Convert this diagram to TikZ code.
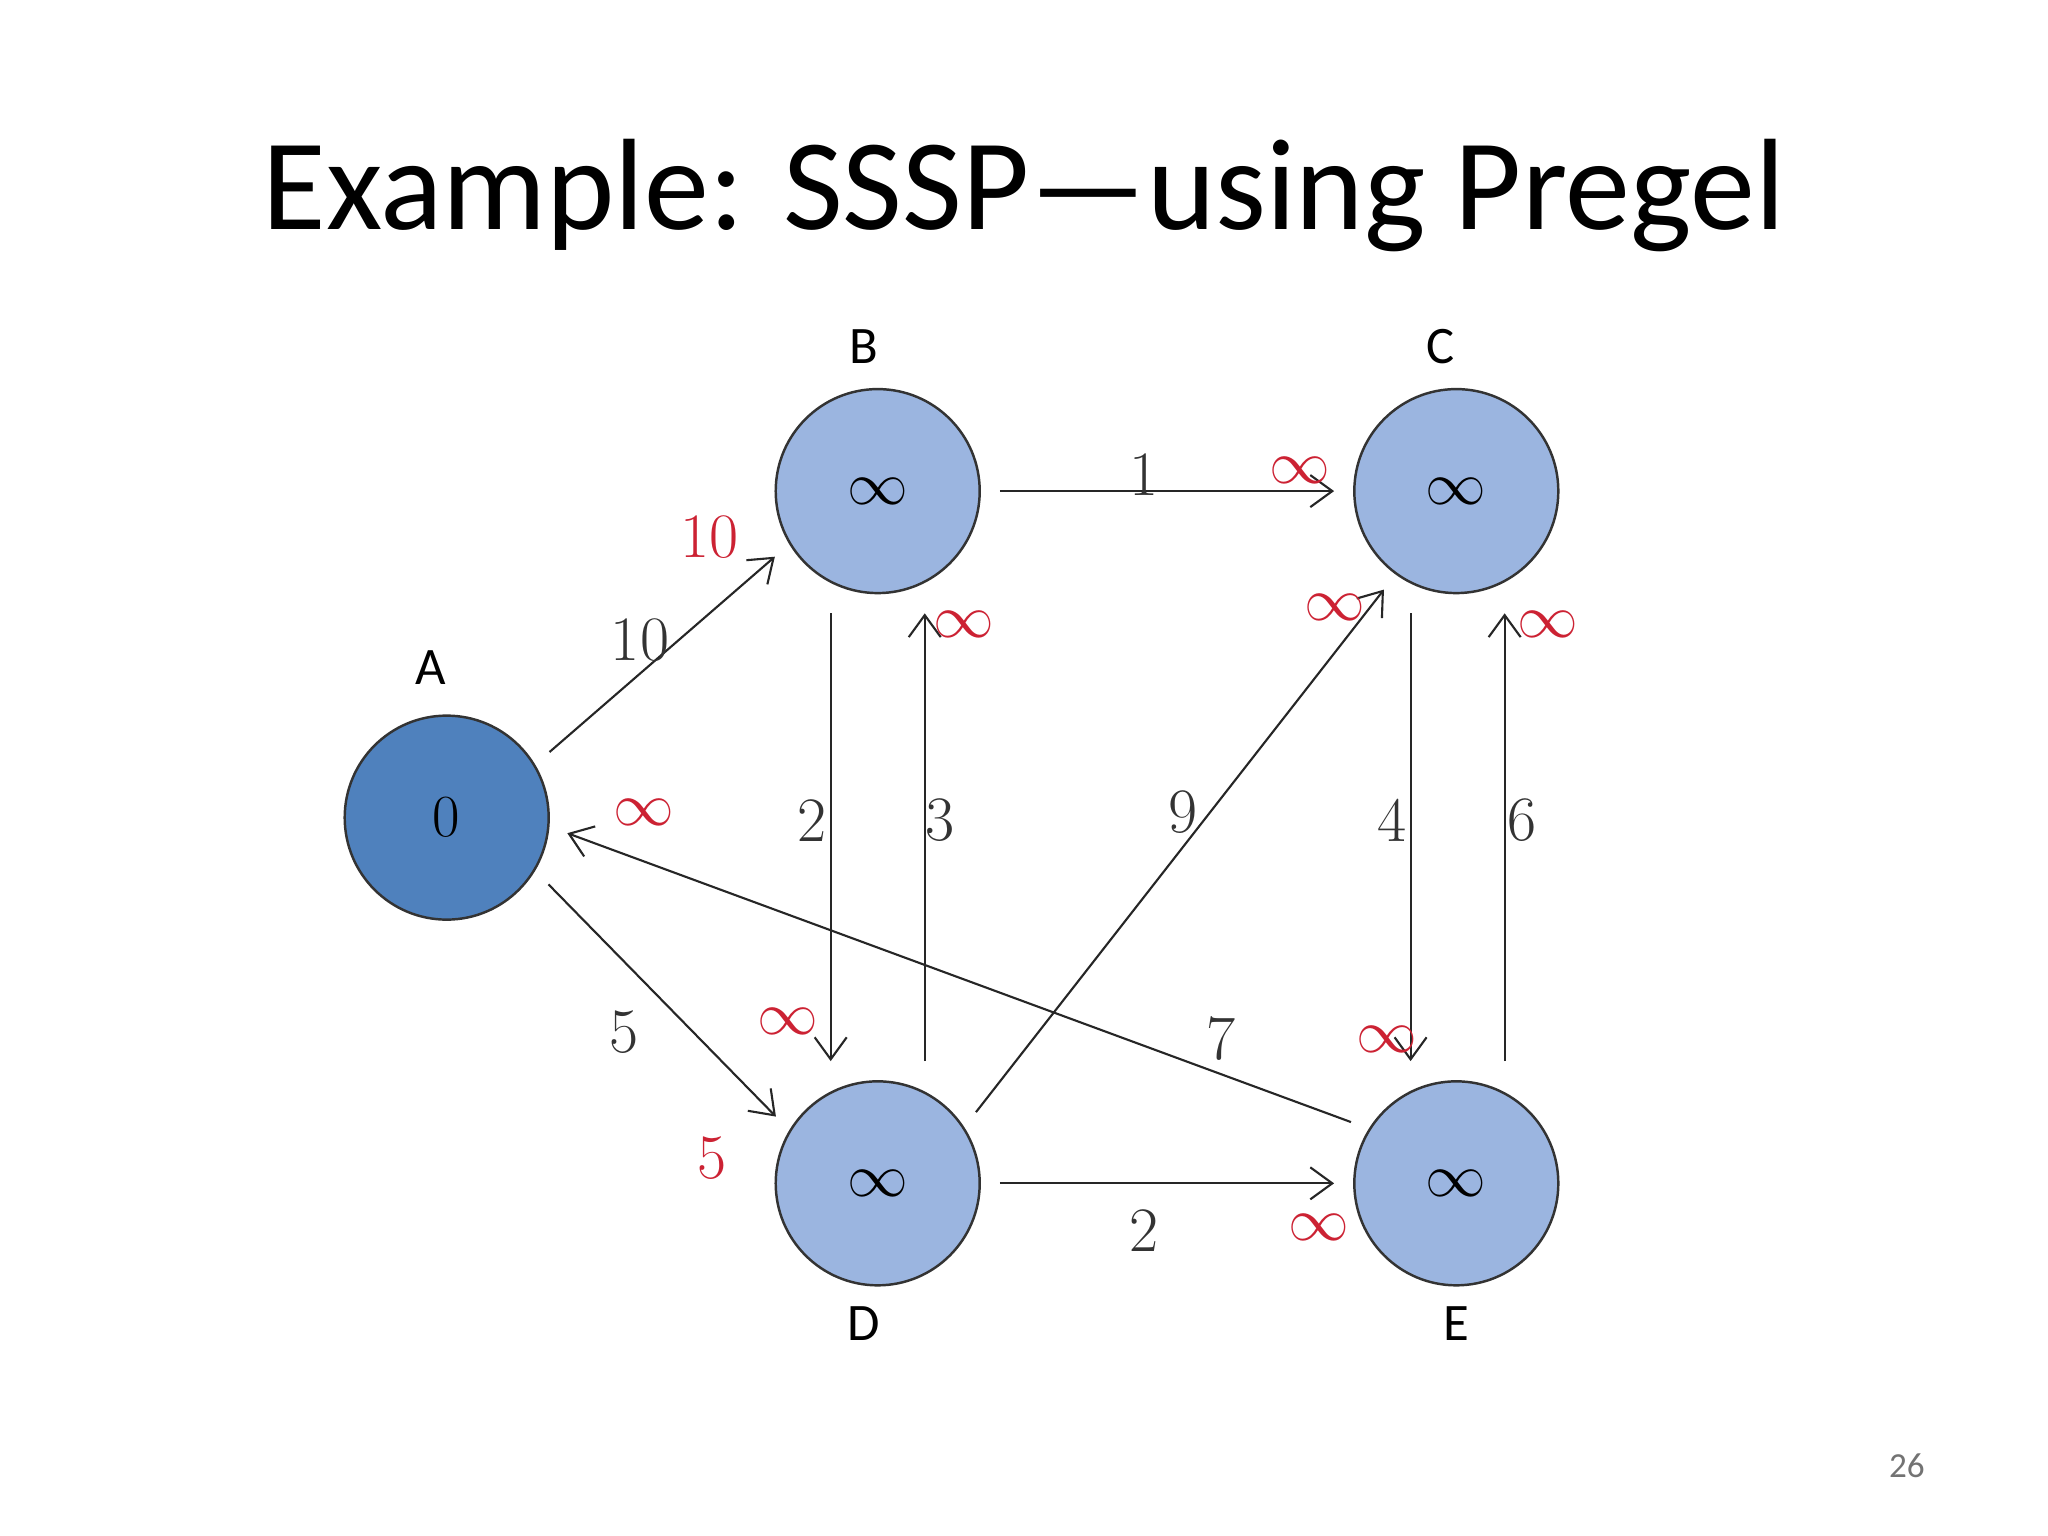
\documentclass[tikz,border=0pt]{standalone}
\usepackage{fontspec}
\setsansfont{Carlito}
\usetikzlibrary{calc,arrows.meta}
\definecolor{lb}{HTML}{9BB5E0}
\definecolor{db}{HTML}{4F81BD}
\definecolor{rd}{HTML}{CC2233}
\begin{document}
\begin{tikzpicture}[x=0.01306cm,y=-0.01306cm,
  vert/.style={circle,draw=black!80,line width=0.7pt,minimum size=2.04cm,inner sep=0pt,font=\fontsize{17}{19}\selectfont},
  edge/.style={draw=black!85,line width=0.6pt,-{Straight Barb[length=2.2mm,width=3.2mm]},shorten <=0.19cm,shorten >=0.19cm},
  wl/.style={font=\fontsize{18}{20}\selectfont,text=black!80},
  rl/.style={font=\fontsize{18}{20}\selectfont,text=rd},
  nl/.style={font=\sffamily\fontsize{15}{17}\selectfont}]
\useasboundingbox (0,0) rectangle (1568,1176);
\fill[white] (0,0) rectangle (1568,1176);
\node[font=\sffamily\fontsize{37}{42}\selectfont] (title) at (784,150) {Example: SSSP---using Pregel};
\node[font=\sffamily\fontsize{10}{12}\selectfont,text=black!55] (pg) at (1460,1122) {26};
\node[vert,fill=db] (A) at (342,626) {0};
\node[vert,fill=lb] (B) at (672,376) {$\infty$};
\node[vert,fill=lb] (C) at (1115,376) {$\infty$};
\node[vert,fill=lb] (D) at (672,906) {$\infty$};
\node[vert,fill=lb] (E) at (1115,906) {$\infty$};
\node[nl] (lA) at (330,511) {A};
\node[nl] (lB) at (661,265) {B};
\node[nl] (lC) at (1103,265) {C};
\node[nl] (lD) at (661,1013) {D};
\node[nl] (lE) at (1115,1013) {E};
% edges
\draw[edge] (A.31) -- (B.211);
\draw[edge] (A.-31) -- (D.149);
\draw[edge] (B.east) -- (C.west);
\draw[edge] (D.east) -- (E.west);
\draw[edge] ($(B.south)+(-36,0)$) -- ($(D.north)+(-36,0)$);
\draw[edge] ($(D.north)+(36,0)$) -- ($(B.south)+(36,0)$);
\draw[edge] ($(C.south)+(-35,0)$) -- ($(E.north)+(-35,0)$);
\draw[edge] ($(E.north)+(37,0)$) -- ($(C.south)+(37,0)$);
\draw[edge] (D.33) -- (C.234);
\draw[edge] (E.148) -- (A.-5);
% weights
\node[wl] (w1) at (490,490) {10};
\node[wl] (w2) at (478,790) {5};
\node[wl] (w3) at (876,363) {1};
\node[wl] (w4) at (622,628) {2};
\node[wl] (w5) at (720,628) {3};
\node[wl] (w6) at (906,622) {9};
\node[wl] (w7) at (1066,628) {4};
\node[wl] (w8) at (1165,628) {6};
\node[wl] (w9) at (935,795) {7};
\node[wl] (w10) at (876,942) {2};
% messages
\node[rl] (r1) at (543,411) {10};
\node[rl] (r2) at (545,887) {5};
\node[rl] (r3) at (995,360) {$\infty$};
\node[rl] (r4) at (603,782) {$\infty$};
\node[rl] (r5) at (738,478) {$\infty$};
\node[rl] (r6) at (1022,465) {$\infty$};
\node[rl] (r7) at (1062,796) {$\infty$};
\node[rl] (r8) at (1185,478) {$\infty$};
\node[rl] (r9) at (493,622) {$\infty$};
\node[rl] (r10) at (1010,940) {$\infty$};
\end{tikzpicture}
\end{document}
